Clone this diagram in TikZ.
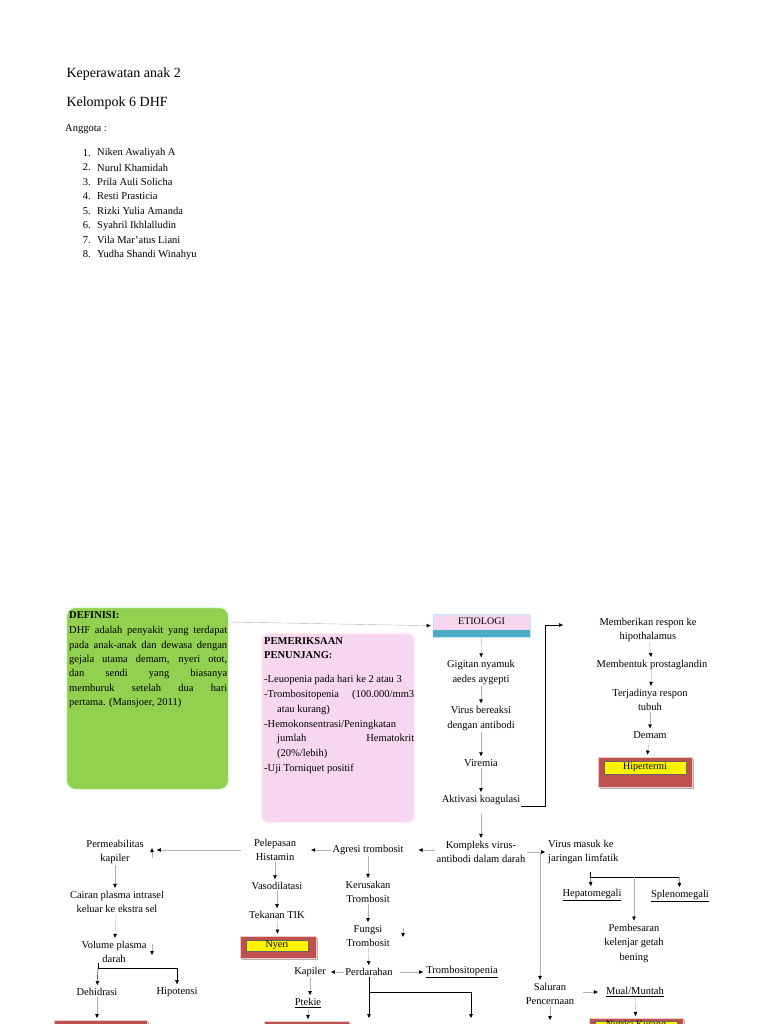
\documentclass[tikz,border=0pt]{standalone}
\usepackage{fontspec}
\setmainfont{Liberation Serif}
\usetikzlibrary{arrows.meta}

\definecolor{defgreen}{HTML}{92D050}
\definecolor{boxpink}{HTML}{F7D6F0}
\definecolor{etioteal}{HTML}{4BACC6}
\definecolor{boxred}{HTML}{C0504D}

\tikzset{
	txt/.style = {align=center, inner sep=1pt, font=\fontsize{10.5}{14.5}\selectfont},
	lst/.style = {inner sep=1pt, font=\fontsize{10.5}{13}\selectfont},
	redbox/.style = {fill=boxred, draw=boxred!30!white, line width=0.8pt,
		preaction={fill=gray!60, transform canvas={xshift=2pt, yshift=-2pt}}},
	yelbox/.style = {fill=yellow, draw=black!60, line width=0.3pt, inner sep=0pt,
		font=\fontsize{10}{12}\selectfont}
}

\begin{document}
\begin{tikzpicture}[x=1pt, y=-1pt, > = {Triangle[length=4pt, width=3.5pt, color=black]},
	arr/.style = {->, draw=gray!60, line width=0.4pt, shorten >=2pt},
	barr/.style = {->, draw=black, line width=0.4pt, shorten >=2pt},
	blk/.style = {draw=black, line width=0.8pt}]

	\useasboundingbox (0,0) rectangle (768,1024);

	% Title and group members

	\node [anchor=west, font=\fontsize{14}{17}\selectfont] (judul) at (63,74) {Keperawatan anak 2};
	\node [anchor=west, font=\fontsize{14}{17}\selectfont] (kelompok) at (63,103) {Kelompok 6 DHF};
	\node [anchor=west, lst] (anggota) at (64,129) {Anggota :};

	\foreach \i/\nama in {1/Niken Awaliyah A, 2/Nurul Khamidah, 3/Prila Auli Solicha,
		4/Resti Prasticia, 5/Rizki Yulia Amanda, 6/Syahril Ikhlalludin,
		7/Vila Mar'atus Liani, 8/Yudha Shandi Winahyu}
	{
		\node [anchor=east, lst] (no\i) at (92, 138.5 + 14.5*\i) {\i.};
		\node [anchor=west, lst] (nama\i) at (96, 138.5 + 14.5*\i) {\nama};
	}

	% Definisi and pemeriksaan boxes

	\node [fill=defgreen, draw=green!12!white, line width=1pt, rounded corners=9pt,
		minimum width=162pt, minimum height=182pt, anchor=north west] (defbox) at (66,607) {};
	\node [anchor=north west, inner sep=0pt, align=left, font=\fontsize{10.5}{14.3}\selectfont]
		(definisi) at (69,611) {\textbf{DEFINISI:}\\[1.5pt]
		\makebox[158pt][s]{DHF adalah penyakit yang terdapat}\\
		\makebox[158pt][s]{pada anak-anak dan dewasa dengan}\\
		\makebox[158pt][s]{gejala utama demam, nyeri otot,}\\
		\makebox[158pt][s]{dan sendi yang biasanya}\\
		\makebox[158pt][s]{memburuk setelah dua hari}\\
		pertama. (Mansjoer, 2011)};

	\node [fill=boxpink, draw=pink!25!white, line width=1pt, rounded corners=7pt,
		minimum width=153pt, minimum height=189pt, anchor=north west] (pembox) at (261,633) {};
	\node [anchor=north west, inner sep=0pt, align=left, font=\fontsize{10.5}{14.8}\selectfont]
		(periksa) at (264,637) {\textbf{PEMERIKSAAN}\\
		\textbf{PENUNJANG:}\\[9pt]
		-Leuopenia pada hari ke 2 atau 3\\
		\makebox[150pt][s]{-Trombositopenia (100.000/mm3}\\
		\hspace*{13pt}atau kurang)\\
		-Hemokonsentrasi/Peningkatan\\
		\hspace*{13pt}\makebox[137pt][s]{jumlah Hematokrit}\\
		\hspace*{13pt}(20\%/lebih)\\
		-Uji Torniquet positif};

	% Etiologi column

	\node [fill=boxpink, draw=cyan!25, line width=0.8pt, minimum width=97pt, inner ysep=3.5pt,
		text depth=9pt, anchor=north, font=\fontsize{10}{12}\selectfont] (etio) at (481.5,614) {ETIOLOGI};
	\fill [etioteal] ([yshift=0.4pt]etio.south west) rectangle ([yshift=7pt]etio.south east);

	\node [txt] (gigit) at (481,672.5) {Gigitan nyamuk\\aedes aygepti};
	\node [txt] (virus) at (481,718.5) {Virus bereaksi\\dengan antibodi};
	\node [txt] (viremia) at (481,763) {Viremia};
	\node [txt] (aktiv) at (481,800) {Aktivasi koagulasi};
	\node [txt] (komp) at (481,852) {Kompleks virus-\\antibodi dalam darah};

	% Demam column

	\node [txt] (respon) at (648,630) {Memberikan respon ke\\hipothalamus};
	\node [txt] (prosta) at (652,665) {Membentuk prostaglandin};
	\node [txt] (tubuh) at (650,700) {Terjadinya respon\\tubuh};
	\node [txt] (demam) at (650,735) {Demam};

	\node [redbox, minimum width=94pt, minimum height=30pt] (hipbox) at (645,772) {};
	\node [yelbox, minimum width=82pt, minimum height=13pt] (hiper) at (645,767.5) {Hipertermi};

	\coordinate (resin) at (565,625);

	% Middle row

	\node [txt] (agresi) at (368,850) {Agresi trombosit};
	\node [txt] (pelepas) at (275,850) {Pelepasan\\Histamin};
	\node [txt] (permea) at (115,852) {Permeabilitas\\kapiler};
	\node [txt, align=left, anchor=west] (virmasuk) at (547,852) {Virus masuk ke\\jaringan limfatik};

	% Plasma branch

	\node [txt] (cairan) at (117,902) {Cairan plasma intrasel\\keluar ke ekstra sel};
	\node [txt] (volume) at (114,952) {Volume plasma\\darah};
	\node [txt] (dehid) at (97,992) {Dehidrasi};
	\node [txt] (hipot) at (177,992) {Hipotensi};
	\node [redbox, minimum width=93pt, minimum height=30pt, anchor=north] (boxkiri) at (100.5,1020) {};

	\coordinate (upA) at (152,858);
	\coordinate (downA) at (152,944);
	\coordinate (vbr) at (98,968);
	\coordinate (vbr2) at (177,968);

	% Histamin branch

	\node [txt] (vaso) at (277,886) {Vasodilatasi};
	\node [txt] (tik) at (277,915) {Tekanan TIK};
	\node [redbox, minimum width=76pt, minimum height=22pt] (nyeribox) at (278,947) {};
	\node [yelbox, minimum width=62pt, minimum height=11pt] (nyeri) at (277,945.5) {Nyeri};

	% Trombosit branch

	\node [txt] (rusak) at (368,892) {Kerusakan\\Trombosit};
	\node [txt] (fungsi) at (368,936) {Fungsi\\Trombosit};
	\node [txt] (darah) at (369,972) {Perdarahan};
	\node [txt] (kapiler) at (310,972) {Kapiler};
	\node [txt] (trombo) at (462,972) {\underline{Trombositopenia}};
	\node [txt] (ptekie) at (308,1003) {\underline{Ptekie}};
	\node [redbox, minimum width=85pt, minimum height=30pt, anchor=north] (boxtengah) at (306.5,1021) {};

	\coordinate (fungA) at (403,928);
	\coordinate (pbr) at (369,992);
	\coordinate (pbr2) at (471,992);
	\coordinate (pend1) at (369,1020);
	\coordinate (pend2) at (471,1020);

	% Limfatik branch

	\node [txt] (hepato) at (592,895) {\underline{Hepatomegali}};
	\node [txt] (spleno) at (680,896) {\underline{Splenomegali}};
	\node [txt] (besar) at (634,943) {Pembesaran\\kelenjar getah\\bening};
	\node [txt] (saluran) at (550,994) {Saluran\\Pencernaan};
	\node [txt] (mual) at (635,992) {\underline{Mual/Muntah}};
	\node [redbox, minimum width=94pt, minimum height=30pt, anchor=north] (boxkanan) at (636,1018) {};
	\node [yelbox, minimum width=82pt, minimum height=9pt, anchor=north] (nutrisi) at (636,1021) {Nutrisi Kurang};

	\coordinate (kv) at (540,852);
	\coordinate (lbr) at (590,877);
	\coordinate (lbr2) at (679,877);
	\coordinate (lbrm) at (634,877);
	\coordinate (salend) at (550,1022);

	% Connectors

	\draw [arr] ([yshift=-15pt]defbox.north east) -- (etio.west);
	\draw [barr] (aktiv.south east) -- ++(24,0) |- (resin);

	\begin{scope}[arr]
		\draw (etio) -- (gigit);
		\draw (gigit) -- (virus);
		\draw (virus) -- (viremia);
		\draw (viremia) -- (aktiv);
		\draw [shorten <=8pt] (aktiv) -- (komp);

		\draw (respon) -- (prosta);
		\draw (prosta) -- (tubuh);
		\draw (tubuh) -- (demam);
		\draw (demam) -- (hipbox);

		\draw [shorten >=14pt] (komp.west |- agresi) -- (agresi);
		\draw [shorten >=14pt] (agresi) -- (pelepas.east |- agresi);
		\draw [shorten <=12pt, shorten >=12pt] (pelepas.west |- agresi) -- (permea.east |- agresi);
		\draw (komp) -- (virmasuk);
		\draw (kv) -- (kv |- saluran.north);

		\draw (upA) -- ++(0,-12);
		\draw (permea) -- (permea |- cairan.north);
		\draw (cairan) -- (volume);
		\draw (downA) -- ++(0,13);
		\draw (dehid) -- (dehid |- boxkiri.north);

		\draw (pelepas) -- (pelepas |- vaso.north);
		\draw (vaso) -- (tik);
		\draw (tik) -- (nyeribox);

		\draw (agresi) -- (agresi |- rusak.north);
		\draw (rusak) -- (fungsi);
		\draw (fungA) -- ++(0,11);
		\draw (fungsi) -- (darah);
		\draw [shorten >=4pt] (darah) -- (kapiler);
		\draw [shorten <=6pt] (darah) -- (trombo);
		\draw (kapiler) -- (kapiler |- ptekie.north);
		\draw (ptekie) -- (ptekie |- boxtengah.north);

		\draw [shorten <=8pt, shorten >=7pt] (saluran.east |- mual) -- (mual);
		\draw (mual) -- (boxkanan);
		\draw (saluran) -- (salend);
	\end{scope}

	% Branch lines

	\draw [blk] ([yshift=5pt]vbr) -- (vbr) -- (vbr2);
	\draw [barr] (vbr) -- (dehid);
	\draw [barr] (vbr2) -- (hipot);

	\draw [blk] (pbr) -- (pbr2);
	\draw [barr] (darah) -- (pend1);
	\draw [barr] (pbr2) -- (pend2);

	\draw [blk] ([yshift=5pt]lbr) -- (lbr) -- (lbr2);
	\draw [barr] (lbr) -- (hepato);
	\draw [barr] (lbr2) -- (spleno);
	\draw [arr] (lbrm) -- (besar);

\end{tikzpicture}
\end{document}
